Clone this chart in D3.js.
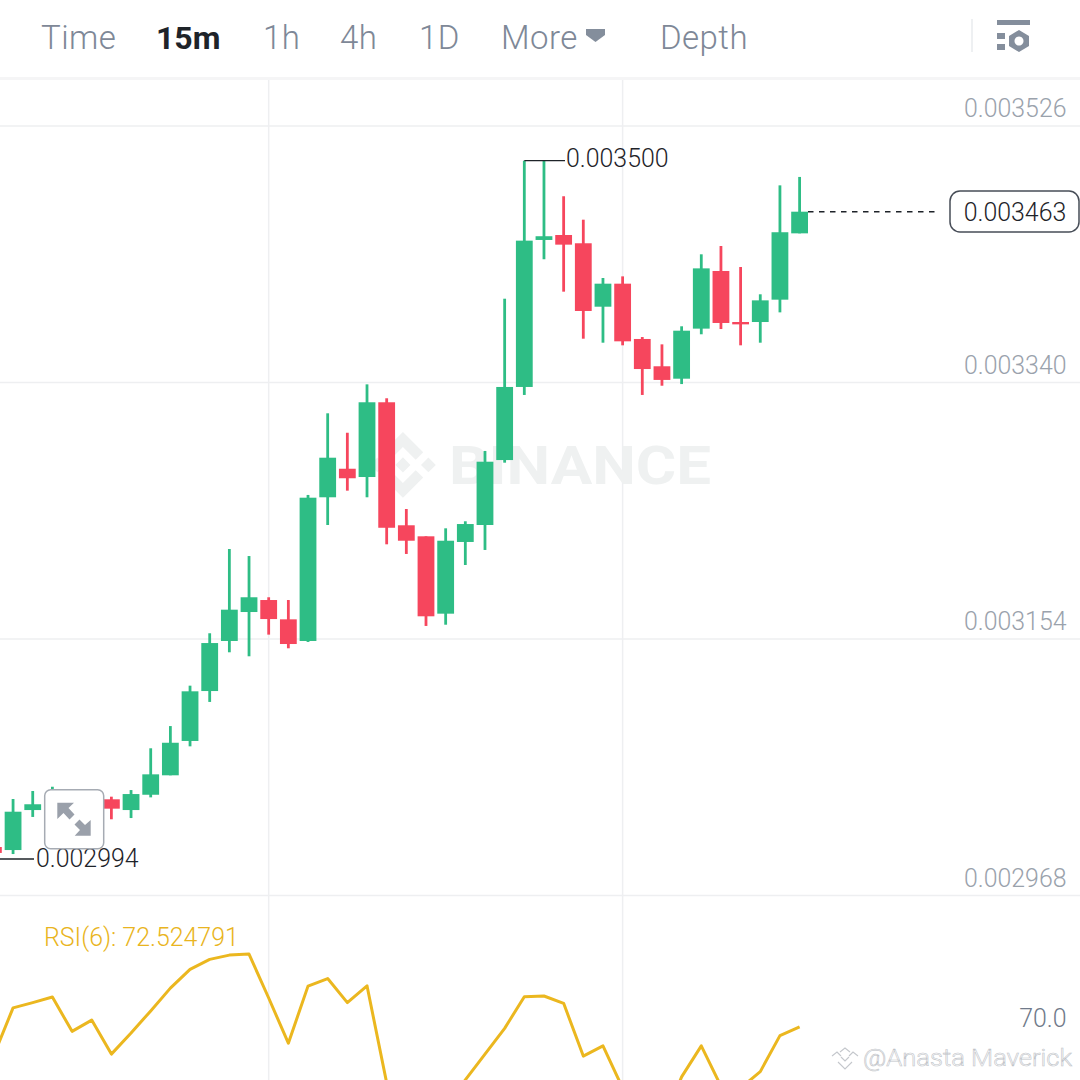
<![CDATA[<!DOCTYPE html>
<html><head><meta charset="utf-8">
<script src="https://cdn.jsdelivr.net/npm/d3@7"></script>
<style>html,body{margin:0;padding:0;background:#fff}svg{display:block}text{font-family:Roboto,sans-serif}</style>
</head><body><div id="c"></div>
<script>
// prices in millionths (3340 = 0.003340)
const open  = [3002.8,3000.6,3029.6,3032.5,3036.9,3026,3037.4,3029.6,3040.7,3054.8,3079.7,3115.9,3152.2,3173.2,3181.9,3167.9,3152.2,3256.4,3277.1,3271.1,3325.3,3236.1,3228.1,3172,3224,3236.3,3283.4,3336.4,3443,3446.6,3440.6,3394.6,3411.3,3371.2,3351.4,3342.4,3378.7,3420.5,3383.5,3383.5,3399.7,3447.8];
const close = [2998.5,3028.4,3033.8,3038.3,3026,3036.9,3030.6,3041.2,3055.5,3078.4,3115.7,3150.7,3174.9,3183.9,3168.1,3150,3256.1,3285.1,3270.2,3325.3,3234.3,3224.9,3170.1,3224.9,3237,3282.2,3336.4,3442.5,3445.7,3439.6,3391.5,3411.3,3369.5,3349.4,3341.5,3377.2,3422.4,3382.8,3381.8,3399.2,3448.6,3463.5];
const high  = [3004.3,3037.6,3043.4,3046.5,3040.5,3040.5,3039.3,3044.1,3074.4,3090.5,3119.8,3157.8,3218.9,3213.8,3183.9,3181.9,3258.1,3317.3,3303.2,3338.3,3328.2,3247.9,3228.1,3233.9,3239,3290,3400.4,3500.5,3500.5,3474.7,3457.7,3415.4,3416.6,3372.6,3367.3,3380.4,3432.6,3438.6,3423.4,3403.6,3482.6,3488.7];
const low   = [2994.1,2997.7,3024.6,3028.2,3021,3022.4,3022.9,3023.8,3038.8,3054.8,3075.8,3108,3144,3141.1,3156.8,3146.9,3151.5,3236.3,3261.2,3256.4,3222.3,3215.3,3163.1,3164,3207.3,3218.2,3281.5,3330.6,3429,3405.5,3371.4,3368.5,3366.6,3330.6,3337.3,3338.5,3374.6,3378.4,3366.6,3368.5,3390.5,3447.8];
const rsi   = [63.7,78.3,79.9,81.6,71.2,74.6,64.3,70.7,77.4,84.3,90,93,94.3,94.6,81.3,67.6,84.9,87.2,79.9,85,55.6,51.9,42.8,45.8,56.5,64.3,72.1,81.7,81.9,79.7,63.7,66.8,54,47.4,42.8,57.4,66.8,54.6,54,59,69.9,72.52];
const priceTicks = [3526,3340,3154,2968];
const tabs = ["Time","15m","1h","4h","1D","More","Depth"];
const tabX = [41,156,263,340,419,501,660];
const vGridIdx = [14,32];
const rsiTick = 70;

const W=1080,H=1080;
const GREEN="#2EBD85",RED="#F6465D",GRID="#EEEFF1";
const svg=d3.select("#c").append("svg").attr("width",W).attr("height",H).attr("viewBox",`0 0 ${W} ${H}`);
svg.append("rect").attr("width",W).attr("height",H).attr("fill","#fff");

const x=d3.scaleLinear().domain([0,41]).range([-6.6,799.6]);
const y=d3.scaleLinear().domain([2968,3526]).range([895,125.5]);
const yR=d3.scaleLinear().domain([100,40]).range([936.3,1134.3]);
const fmt=v=>(v/1e6).toFixed(6);

// toolbar
svg.append("rect").attr("x",0).attr("y",77).attr("width",W).attr("height",3).attr("fill","#F5F5F6");
svg.append("g").selectAll("text").data(tabs).join("text")
  .attr("x",(d,i)=>tabX[i]).attr("y",49).text(d=>d)
  .attr("font-size",d=>d==="15m"?32:33).attr("letter-spacing",d=>d==="15m"?0:0.45)
  .attr("font-weight",d=>d==="15m"?700:300)
  .attr("fill",d=>d==="15m"?"#1E2329":"#7E8897");
svg.append("path").attr("d","M586 29H605V35L595.5 42L586 35Z").attr("fill","#848E9C");
svg.append("rect").attr("x",971).attr("y",19).attr("width",2).attr("height",33).attr("fill","#EEF0F2");
const ic=svg.append("g").attr("fill","#848E9C");
ic.append("rect").attr("x",997).attr("y",20).attr("width",33).attr("height",5);
ic.append("rect").attr("x",997).attr("y",33).attr("width",8).attr("height",6);
ic.append("rect").attr("x",997).attr("y",44).attr("width",8).attr("height",6);
ic.append("path").attr("fill-rule","evenodd").attr("d","M1019 30L1029 36V46L1019 52L1009 46V36ZM1019 36.5a4.5 4.5 0 1 0 .01 0Z");

// grid via axes
const axis=d3.axisRight(y).tickValues(priceTicks).tickSize(W).tickFormat(fmt);
const ga=svg.append("g").call(axis);
ga.select(".domain").remove();
ga.selectAll("line").attr("stroke",GRID).attr("stroke-width",1.5);
ga.selectAll("text").attr("x",1066.5).attr("text-anchor","end").attr("dy",d=>d===3526?-9.5:-8.7)
  .attr("font-size",24.9).attr("font-weight",300).attr("font-family","Roboto").attr("fill","#9AA2AC");
svg.append("g").selectAll("line").data(vGridIdx).join("line")
  .attr("x1",d=>x(d)).attr("x2",d=>x(d)).attr("y1",80).attr("y2",H)
  .attr("stroke",GRID).attr("stroke-width",1.5);

// BINANCE watermark
const wm=svg.append("g");
const logo=wm.append("g").attr("transform","translate(370,432) scale(0.52)").attr("fill","#EFF1F1");
["M38.73 53.2l24.59-24.58 24.6 24.6 14.3-14.31L63.32 0 24.42 38.9z","M0 63.31l14.3-14.31 14.31 14.31-14.31 14.3z","M38.73 73.41l24.59 24.59 24.6-24.6 14.31 14.29-38.9 38.91-38.91-38.88z","M98 63.31l14.3-14.31 14.31 14.3-14.31 14.32z","M77.83 63.3L63.32 48.78 52.59 59.51l-1.24 1.23-2.54 2.54 14.51 14.5 14.51-14.47z"]
 .forEach(d=>logo.append("path").attr("d",d));
wm.append("text").attr("x",449).attr("y",484).text("BINANCE").attr("font-size",53.5).attr("font-weight",700)
  .attr("fill","#EFF1F1").attr("textLength",262).attr("lengthAdjust","spacingAndGlyphs");

// candles
const idx=d3.range(open.length);
const col=i=>close[i]>=open[i]?GREEN:RED;
const bw=16.8;
const cg=svg.append("g");
cg.selectAll("line").data(idx).join("line")
  .attr("x1",x).attr("x2",x).attr("y1",i=>y(high[i])).attr("y2",i=>y(low[i]))
  .attr("stroke",col).attr("stroke-width",2.8);
cg.selectAll("rect").data(idx).join("rect")
  .attr("x",i=>x(i)-bw/2).attr("width",bw)
  .attr("y",i=>y(Math.max(open[i],close[i])))
  .attr("height",i=>Math.max(2,Math.abs(y(open[i])-y(close[i]))))
  .attr("fill",col);

// high / low / last annotations
const INK="#1E2329";
const hiI=d3.greatestIndex(high), loI=d3.leastIndex(low), last=open.length-1;
svg.append("line").attr("x1",x(hiI)).attr("x2",565).attr("y1",y(high[hiI])).attr("y2",y(high[hiI])).attr("stroke",INK).attr("stroke-width",1.3);
svg.append("text").attr("x",566).attr("y",y(high[hiI])+6.8).text("0.003500").attr("font-size",24.9).attr("font-weight",300).attr("fill",INK);
svg.append("line").attr("x1",0).attr("x2",34).attr("y1",y(low[loI])).attr("y2",y(low[loI])).attr("stroke",INK).attr("stroke-width",1.3);
svg.append("text").attr("x",36).attr("y",y(low[loI])+8).text("0.002994").attr("font-size",24.9).attr("font-weight",300).attr("fill",INK);
svg.append("line").attr("x1",808).attr("x2",936).attr("y1",y(close[last])).attr("y2",y(close[last]))
  .attr("stroke",INK).attr("stroke-width",1.4).attr("stroke-dasharray","5.5 5.5");
svg.append("rect").attr("x",950).attr("y",191).attr("width",129).attr("height",41).attr("rx",10)
  .attr("fill","#fff").attr("stroke","#474D57").attr("stroke-width",1.5);
svg.append("text").attr("x",1015).attr("y",220.5).attr("text-anchor","middle").text("0.003463").attr("font-size",24.9).attr("font-weight",300).attr("fill",INK);

// expand button
svg.append("rect").attr("x",44.7).attr("y",789.7).attr("width",59).attr("height",59).attr("rx",6)
  .attr("fill","#fff").attr("stroke","#A6ABB3").attr("stroke-width",1.5);
svg.append("path").attr("fill","#9AA0AA")
  .attr("d","M57.3 802.7H74L68.5 808L74.5 814.5L69.5 819.5L63.5 813L57.3 819ZM90.7 835.7H74.7L80 830L74.5 824.5L79.5 819.5L85 825L90.7 820Z");

// RSI
const clipId="rsiClip";
svg.append("clipPath").attr("id",clipId).append("rect").attr("x",0).attr("y",896).attr("width",W).attr("height",184);
svg.append("path").datum(rsi).attr("clip-path",`url(#${clipId})`)
  .attr("d",d3.line().x((d,i)=>x(i)).y(d=>yR(d)))
  .attr("fill","none").attr("stroke","#EBB71F").attr("stroke-width",3).attr("stroke-linejoin","round");
svg.append("text").attr("x",44).attr("y",946).text("RSI(6): 72.524791").attr("font-size",24.9).attr("font-weight",300).attr("fill","#E9B420");
const ar=d3.axisRight(yR).tickValues([rsiTick]).tickSize(0).tickFormat(d3.format(".1f"));
const gr=svg.append("g").call(ar);
gr.select(".domain").remove();
gr.selectAll("text").attr("x",1066.5).attr("text-anchor","end").attr("dy",-9)
  .attr("font-size",24.9).attr("font-weight",300).attr("font-family","Roboto").attr("fill","#707A8A");

// author watermark
const au=svg.append("g").attr("fill","none").attr("stroke","#C4C7CC").attr("stroke-width",1.1);
au.append("path").attr("d","M832 1056L837 1052L841 1056M838 1062L845 1069L852 1062M840 1052L845 1048L850 1052M841 1057L845 1061L849 1057M849 1056L853 1052L858 1056");
svg.append("text").attr("x",863).attr("y",1066).text("@Anasta Maverick").attr("font-size",24.5)
  .attr("textLength",209).attr("lengthAdjust","spacingAndGlyphs").attr("font-weight",300)
  .attr("fill","#fff").attr("stroke","#C0C3C8").attr("stroke-width",0.6);
</script></body></html>]]>
